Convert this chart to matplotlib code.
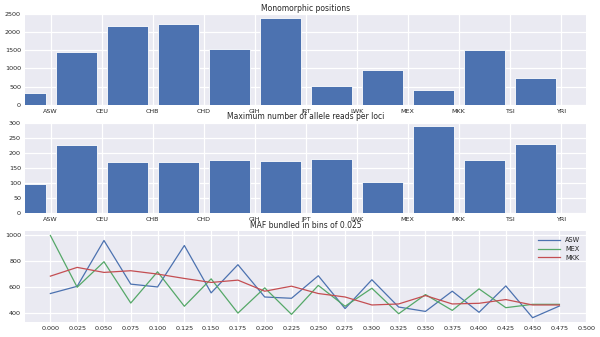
import numpy as np
import matplotlib
matplotlib.use("Agg")
import matplotlib.pyplot as plt

populations = ["ASW", "CEU", "CHB", "CHD", "GIH", "JPT", "LWK", "MEX", "MKK", "TSI", "YRI"]
monomorphic = [333, 1454, 2177, 2222, 1528, 2390, 528, 945, 406, 1510, 723]
max_allele_reads = [98, 225, 169, 171, 177, 172, 181, 102, 289, 177, 228]

maf_bins = [0.000, 0.025, 0.050, 0.075, 0.100, 0.125, 0.150, 0.175, 0.200, 0.225,
            0.250, 0.275, 0.300, 0.325, 0.350, 0.375, 0.400, 0.425, 0.450, 0.475]
maf_asw = [549, 605, 961, 622, 600, 922, 554, 773, 522, 512,
           687, 432, 656, 444, 410, 567, 403, 608, 361, 452]
maf_mex = [1000, 598, 796, 475, 718, 450, 663, 397, 593, 387,
           612, 450, 590, 392, 541, 418, 585, 439, 465, 465]
maf_mkk = [684, 752, 713, 726, 700, 666, 635, 653, 567, 606,
           549, 522, 460, 468, 533, 468, 473, 502, 460, 460]

BLUE, GREEN, RED = "#4C72B0", "#55A868", "#C44E52"
BG = "#EAEAF2"
TXT = "#262626"

plt.rcParams.update({
    "font.family": "DejaVu Sans",
    "axes.facecolor": BG,
    "axes.edgecolor": "white",
    "axes.linewidth": 0,
    "grid.color": "white",
    "grid.linewidth": 0.9,
    "xtick.major.size": 0,
    "ytick.major.size": 0,
    "xtick.labelsize": 4.6,
    "ytick.labelsize": 4.6,
    "xtick.color": TXT,
    "ytick.color": TXT,
    "xtick.major.pad": 3,
    "ytick.major.pad": 3,
    "axes.titlesize": 5.5,
    "axes.titlecolor": TXT,
    "axes.titlepad": 2.5,
})

fig, axes = plt.subplots(3, 1, figsize=(6, 3.37), dpi=100)
fig.subplots_adjust(left=0.042, right=0.977, top=0.958, bottom=0.045, hspace=0.2)

x = np.arange(len(populations))


def bar_panel(ax, values, title, ymax, step):
    ax.set_axisbelow(True)
    ax.grid(True)
    ax.bar(x, values, width=0.8, color=BLUE, edgecolor="white", linewidth=0.6)
    ax.set_xticks(x + 0.5)
    ax.set_xticklabels(populations)
    ax.set_xlim(0, len(populations))
    ax.set_ylim(0, ymax)
    ax.set_yticks(np.arange(0, ymax + 1, step))
    ax.set_title(title)


bar_panel(axes[0], monomorphic, "Monomorphic positions", 2500, 500)
bar_panel(axes[1], max_allele_reads, "Maximum number of allele reads per loci", 300, 50)

ax = axes[2]
ax.set_axisbelow(True)
ax.grid(True)
ax.plot(maf_bins, maf_asw, color=BLUE, lw=0.9, label="ASW")
ax.plot(maf_bins, maf_mex, color=GREEN, lw=0.9, label="MEX")
ax.plot(maf_bins, maf_mkk, color=RED, lw=0.9, label="MKK")
ax.set_xticks(np.arange(0, 0.5001, 0.025))
ax.set_xticklabels([f"{v:.3f}" for v in np.arange(0, 0.5001, 0.025)])
ax.set_xlim(-0.0235, 0.5)
ax.set_yticks([400, 600, 800, 1000])
ax.set_title("MAF bundled in bins of 0.025")
leg = ax.legend(loc="upper right", frameon=False, fontsize=4.8, handlelength=3.2,
                labelspacing=0.4)
for t in leg.get_texts():
    t.set_color(TXT)

fig.savefig("out.png", dpi=100)
